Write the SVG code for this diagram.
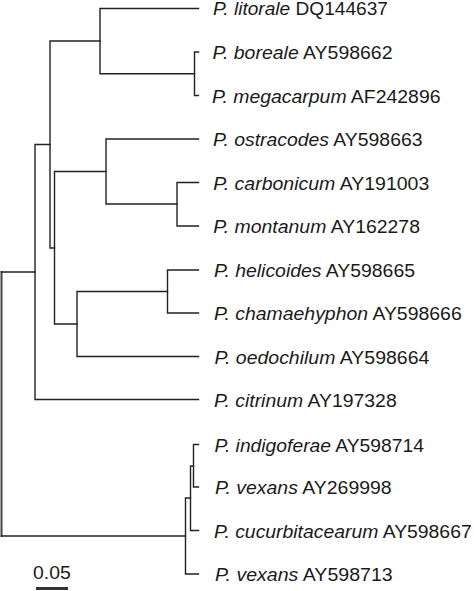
<svg xmlns="http://www.w3.org/2000/svg" width="474" height="591" viewBox="0 0 474 591">
<style>
.b{stroke:#222;stroke-width:1.4;fill:none;stroke-linecap:square}
.t{font-family:"Liberation Sans",Arial,sans-serif;font-size:18px;fill:#1a1a1a}
.i{font-style:italic}
</style>
<rect width="474" height="591" fill="#fff"/>
<g id="connectors" class="b">
<path d="M1.5 272V536" stroke="#444" stroke-width="2"/>
<path d="M1.5 272H35M1.5 536H185.5"/>
<path d="M35 144.5V399.5M35 144.5H50M35 399.5H198.5"/>
<path d="M50 41V248M50 41H100M50 248H54.5"/>
<path d="M100 8.5V73.75M100 8.5H198.5M100 73.75H194.5"/>
<path d="M194.5 52V95.5M194.5 52H198.5M194.5 95.5H198.5"/>
<path d="M54.5 171.5V324M54.5 171.5H106M54.5 324H77"/>
<path d="M106 139V204M106 139H198.5M106 204H177"/>
<path d="M177 182.5V226M177 182.5H198.5M177 226H198.5"/>
<path d="M77 291.5V356.5M77 291.5H167.5M77 356.5H198.5"/>
<path d="M167.5 270V313M167.5 270H198.5M167.5 313H198.5"/>
<path d="M185.5 498V574M185.5 498H190.5M185.5 574H198.5"/>
<path d="M190.5 466V530.5M190.5 466H193.5M190.5 530.5H198.5"/>
<path d="M193.5 444.5V487M193.5 444.5H198.5M193.5 487H198.5"/>
</g>
<g id="leaf-litorale"><text class="t" x="213" y="15" textLength="175" lengthAdjust="spacingAndGlyphs"><tspan class="i">P. litorale</tspan> DQ144637</text></g>
<g id="leaf-boreale"><text class="t" x="212.5" y="59" textLength="180" lengthAdjust="spacingAndGlyphs"><tspan class="i">P. boreale</tspan> AY598662</text></g>
<g id="leaf-megacarpum"><text class="t" x="212" y="102.5" textLength="228.5" lengthAdjust="spacingAndGlyphs"><tspan class="i">P. megacarpum</tspan> AF242896</text></g>
<g id="leaf-ostracodes"><text class="t" x="213" y="146" textLength="209.5" lengthAdjust="spacingAndGlyphs"><tspan class="i">P. ostracodes</tspan> AY598663</text></g>
<g id="leaf-carbonicum"><text class="t" x="213.3" y="189.5" textLength="216" lengthAdjust="spacingAndGlyphs"><tspan class="i">P. carbonicum</tspan> AY191003</text></g>
<g id="leaf-montanum"><text class="t" x="213.3" y="233" textLength="206.7" lengthAdjust="spacingAndGlyphs"><tspan class="i">P. montanum</tspan> AY162278</text></g>
<g id="leaf-helicoides"><text class="t" x="214" y="277" textLength="201" lengthAdjust="spacingAndGlyphs"><tspan class="i">P. helicoides</tspan> AY598665</text></g>
<g id="leaf-chamaehyphon"><text class="t" x="214" y="320" textLength="247.7" lengthAdjust="spacingAndGlyphs"><tspan class="i">P. chamaehyphon</tspan> AY598666</text></g>
<g id="leaf-oedochilum"><text class="t" x="214.5" y="363.5" textLength="214.8" lengthAdjust="spacingAndGlyphs"><tspan class="i">P. oedochilum</tspan> AY598664</text></g>
<g id="leaf-citrinum"><text class="t" x="214" y="406.5" textLength="182.7" lengthAdjust="spacingAndGlyphs"><tspan class="i">P. citrinum</tspan> AY197328</text></g>
<g id="leaf-indigoferae"><text class="t" x="214.5" y="451.5" textLength="209.5" lengthAdjust="spacingAndGlyphs"><tspan class="i">P. indigoferae</tspan> AY598714</text></g>
<g id="leaf-vexans1"><text class="t" x="215" y="494" textLength="176.7" lengthAdjust="spacingAndGlyphs"><tspan class="i">P. vexans</tspan> AY269998</text></g>
<g id="leaf-cucurbitacearum"><text class="t" x="214" y="537.5" textLength="257.7" lengthAdjust="spacingAndGlyphs"><tspan class="i">P. cucurbitacearum</tspan> AY598667</text></g>
<g id="leaf-vexans2"><text class="t" x="215" y="581" textLength="177.7" lengthAdjust="spacingAndGlyphs"><tspan class="i">P. vexans</tspan> AY598713</text></g>
<g id="scale-bar">
<text class="t" x="33" y="579" textLength="37.7" lengthAdjust="spacingAndGlyphs">0.05</text>
<rect x="36" y="587" width="32" height="3" fill="#333"/>
</g>
</svg>
